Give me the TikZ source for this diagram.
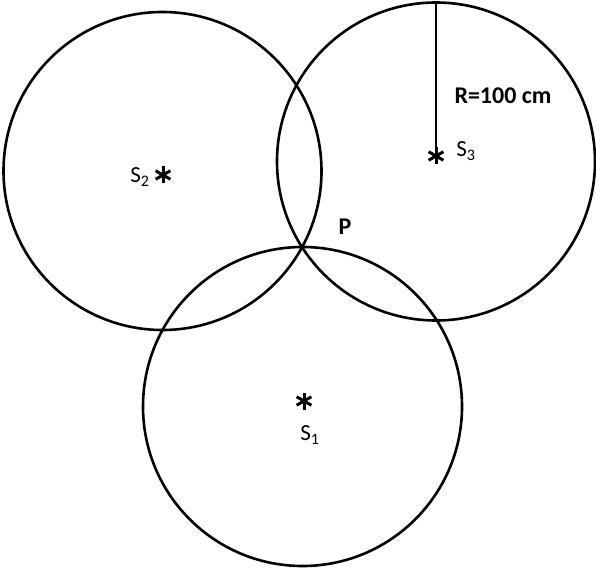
\documentclass[tikz,border=0pt]{standalone}
\usepackage{fontspec}
\setmainfont{Carlito}
\begin{document}
\begin{tikzpicture}[x=1pt,y=-1pt,
  ring/.style={draw=black,line width=2.6pt},
  lbl/.style={inner sep=0pt,font=\fontsize{23}{27}\selectfont},
  bl/.style={inner sep=0pt,font=\bfseries\fontsize{24}{28}\selectfont},
  arm/.style={line width=3pt}]
\newcommand{\astx}[1]{\foreach \a in {90,270,30,150,210,330}{\draw[arm] (#1) -- ++(\a:8.5);}}
\useasboundingbox (0,0) rectangle (596,569);
\draw[ring] (162.5,171) circle (159);
\draw[ring] (436,161.5) circle (159);
\draw[ring] (302.5,406.5) circle (159.5);
\coordinate (top) at (436,2.5);
\coordinate (s3) at (436,156);
\coordinate (s2) at (163,175);
\coordinate (s1) at (304,401);
\astx{s3}\astx{s2}\astx{s1}
\draw[line width=1.6pt] (top) -- (s3);
\node[lbl] (l3) at (466,151) {S\textsubscript{3}};
\node[lbl] (l2) at (140,177) {S\textsubscript{2}};
\node[lbl] (l1) at (310,435) {S\textsubscript{1}};
\node[bl] (r) at (503,96) {R=100 cm};
\node[bl] (p) at (345,227) {P};
\end{tikzpicture}
\end{document}
